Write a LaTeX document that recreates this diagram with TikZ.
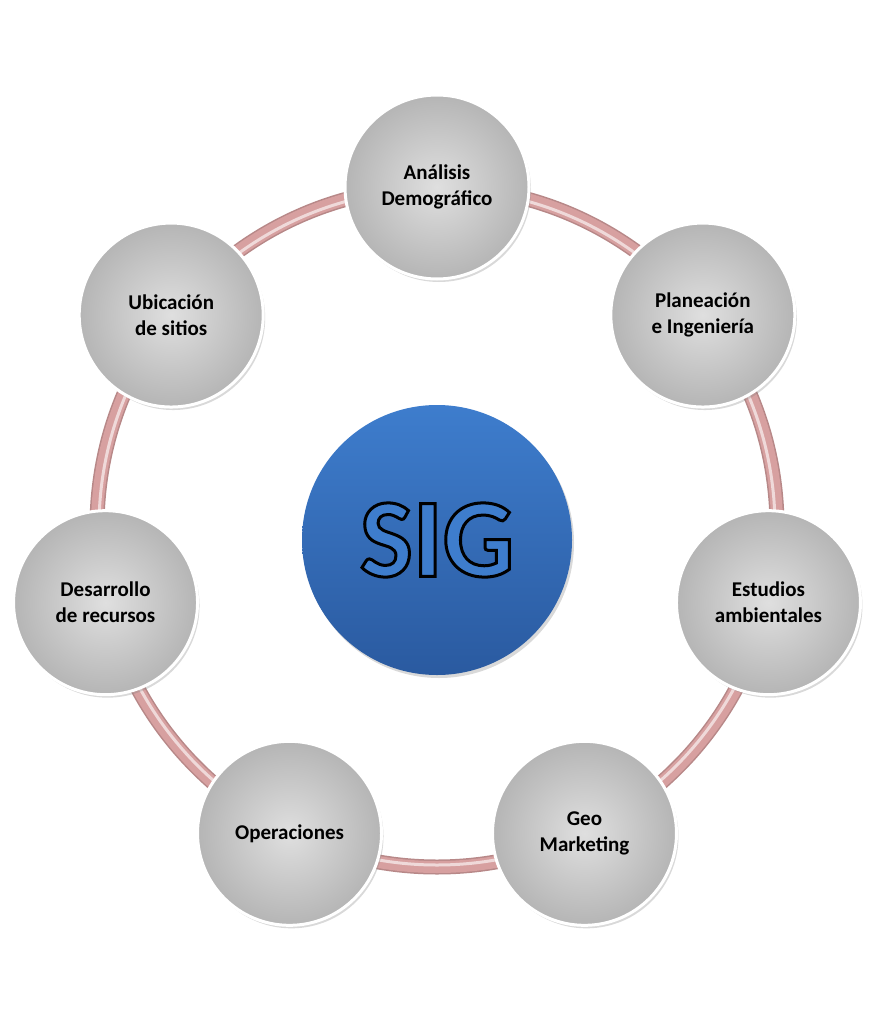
\documentclass[tikz,border=0pt]{standalone}
\usepackage{fontspec}
\setmainfont{Carlito}
\usetikzlibrary{shadows,calc}
\definecolor{ringc}{RGB}{215,160,160}
\definecolor{sigtop}{RGB}{62,125,205}
\definecolor{sigbot}{RGB}{42,90,160}
\tikzset{
 bub/.style={circle,minimum size=184pt,inner sep=0pt,draw=white,line width=3pt,
   shade,inner color=gray!25,outer color=gray!58,
   drop shadow={shadow xshift=2pt,shadow yshift=-3pt,opacity=0.3},
   font=\bfseries\fontsize{21}{26}\selectfont,align=center,text=black},
}
\begin{document}
\begin{tikzpicture}[x=1pt,y=-1pt]
\useasboundingbox (0,0) rectangle (874,1022);
\coordinate (c) at (437,527);
\draw[ringc!85!black,line width=15pt] (c) circle (340);
\draw[ringc,line width=12pt] (c) circle (340);
\draw[white!60!ringc,line width=3pt] (c) circle (338);
\node[circle,minimum size=270pt,inner sep=0pt,top color=sigtop,bottom color=sigbot,
  drop shadow={shadow xshift=2pt,shadow yshift=-3pt,opacity=0.3}] (sig) at (437,540) {};
\node[font=\bfseries\fontsize{112}{112}\selectfont,text=sigtop] (sigt) at (sig) {\special{pdf:code 2 Tr 3 w 0 0 0 RG}SIG\special{pdf:code 0 Tr}};
\foreach \n/\a/\t in {a/90/{Análisis\\Demográfico},b/38.57/{Planeación\\e Ingeniería},c3/-12.86/{Estudios\\ambientales},d/-64.29/{Geo\\Marketing},e/-115.71/{Operaciones},f/-167.14/{Desarrollo\\de recursos},g/-218.57/{Ubicación\\de sitios}}{
  \node[bub] (\n) at ($(c)+(-\a:340)$) {\t};
}
\end{tikzpicture}
\end{document}
